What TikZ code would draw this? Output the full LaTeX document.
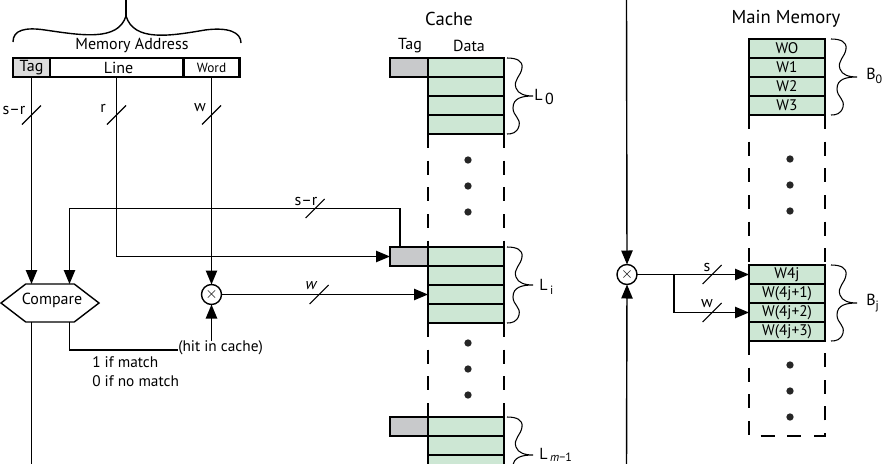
\documentclass[tikz,border=0pt]{standalone}
\usepackage{fontspec}
\setmainfont{PT Sans}
\usetikzlibrary{shapes.symbols, arrows.meta, calc}
\newcommand{\cellWidth}{57pt}
\newcommand{\cellHeight}{14.25pt}
\newcommand{\tagWidth}{28.5pt}
\newcommand{\thinWidth}{0.8pt}
\newcommand{\connWidth}{1.05pt}
\newcommand{\boxWidth}{2.2pt}
\newcommand{\arrow}{{Triangle[length=10.5pt, width=8.5pt]}}
\newcommand{\fontSize}{12}
\definecolor{lineColor}{RGB}{0, 0, 0}
\definecolor{cellGreen}{RGB}{205,231,212}
\definecolor{tagGray}{RGB}{200,201,203}
\definecolor{addrGray}{RGB}{220,220,220}
\tikzstyle{panel}=[draw=lineColor, inner sep=0, outer sep=0]
\tikzstyle{cell}=[panel, fill=cellGreen, minimum width=\cellWidth, minimum height=\cellHeight, line width=\boxWidth, font=\fontsize{11.5}{11.5}\selectfont]
\tikzstyle{tagCell}=[cell, fill=tagGray, minimum width=\tagWidth]
\tikzstyle{addrCell}=[panel, fill=white, minimum height=\cellHeight, line width=1.7pt, font=\fontsize{12}{12}\selectfont]
\tikzstyle{line}=[draw=lineColor, line width=\connWidth]
\tikzstyle{arrow}=[line, -\arrow]
\tikzstyle{slash}=[draw=lineColor, line width=\thinWidth]
\tikzstyle{brace}=[draw=lineColor, line width=\thinWidth]
\tikzstyle{dashLine}=[draw=lineColor, line width=\boxWidth, dash pattern=on 10.5pt off 9.5pt]
\tikzstyle{mult}=[panel, circle, fill=white, line width=\connWidth, minimum size=15pt, font=\large]
\tikzstyle{dot}=[circle, fill=lineColor!85, inner sep=0, minimum size=5.5pt]
\tikzstyle{textNode}=[draw=none, inner sep=0, font=\fontsize{\fontSize}{\fontSize}\selectfont]
\tikzstyle{noteNode}=[textNode, anchor=west, font=\fontsize{11.5}{11.5}\selectfont]
\tikzstyle{titleNode}=[textNode, font=\fontsize{14}{14}\selectfont]
\newcommand{\busSlash}[1]{\draw[slash] ($(#1)+(-9.5,9.5)$) -- ($(#1)+(9.5,-9.5)$);}
\newcommand{\blockBrace}[1]{\draw[brace, shift={(#1)}] (0,0) .. controls (10,0) and (16,3) .. (15,10)
  .. controls (14,18) and (6,22) .. (9,30) .. controls (11,36) and (18,38) .. (26,38)
  .. controls (15,38) and (6,40) .. (6,50) .. controls (6,58) and (14,60) .. (12,68)
  .. controls (10,75) and (5,76) .. (0,76);}
\begin{document}
\begin{tikzpicture}[x=0.75pt, y=-0.75pt]
\useasboundingbox (0,0) rectangle (882,464);
\clip (0,0) rectangle (882,464);

% Address fields
\node[addrCell, fill=addrGray, minimum width=27.75pt] (addrTag) at (31.5,67.5) {Tag};
\node[addrCell, minimum width=99.75pt] (addrLine) at (116.5,67.5) {\hspace{3pt}Line};
\node[addrCell, minimum width=42pt, font=\fontsize{10}{10}\selectfont] (addrWord) at (211.5,67.5) {Word};
\node[textNode] (addrTitle) at (132,45.5) {Memory Address};

% Address brace
\coordinate (addrIn) at (126,-2);
\coordinate (addrTip) at (126,16);
\draw[line] (addrIn) -- (addrTip);
\draw[line] (13,42) .. controls (13,30) and (25,27) .. (45,30) .. controls (80,35) and (118,42) .. (addrTip)
  .. controls (134,42) and (170,36) .. (205,30) .. controls (228,27) and (241,32) .. (241,43);

% Titles
\node[titleNode] (cacheTitle) at (449,19) {Cache};
\node[titleNode] (memTitle) at (786,19) {Main Memory};
\node[textNode] (tagTitle) at (410,45.5) {Tag};
\node[textNode] (dataTitle) at (469,46) {Data};

% Cache lines
\foreach \name/\rowTop in {Zero/58,I/247,M/417} {
  \node[tagCell] (tag\name) at (409,\rowTop+9.5) {};
  \foreach \r in {0,...,3} {
    \node[cell] (data\name\r) at (466,\rowTop+9.5+19*\r) {};
  }
}
\draw[dashLine] (dataZero3.south west) -- (dataI0.north west);
\draw[dashLine] (dataZero3.south east) -- (dataI0.north east);
\draw[dashLine] (dataI3.south west) -- (dataM0.north west);
\draw[dashLine] (dataI3.south east) -- (dataM0.north east);
\foreach \yy in {160,186,212,343,369,395} {
  \node[dot] (cacheDot\yy) at (468,\yy) {};
}

% Memory blocks
\foreach \r/\txt in {0/WO,1/W1,2/W2,3/W3} {
  \node[cell] (memZero\r) at (787,48.5+19*\r) {\txt};
}
\foreach \r/\txt in {0/W4j,1/W(4j+1),2/W(4j+2),3/W(4j+3)} {
  \node[cell] (memJ\r) at (787,274.5+19*\r) {\txt};
}
\coordinate (memCornerL) at (749,436);
\coordinate (memCornerR) at (825,436);
\draw[dashLine] (memZero3.south west) -- (memJ0.north west);
\draw[dashLine] (memZero3.south east) -- (memJ0.north east);
\draw[dashLine] (memJ3.south west) -- (memCornerL) -- (memCornerR) -- (memJ3.south east);
\foreach \yy in {159,185,211,365,391,417} {
  \node[dot] (memDot\yy) at (790,\yy) {};
}

% Braces
\blockBrace{507,58}
\blockBrace{507,247}
\blockBrace{507,417}
\blockBrace{831,39}
\blockBrace{831,265}
\node[textNode, anchor=west] (labelL0) at (534,97) {L\,\raisebox{-3pt}{0}};
\node[textNode, anchor=west] (labelLi) at (539,287) {L\,\raisebox{-3pt}{\small i}};
\node[textNode, anchor=west] (labelLm) at (539,455) {L\,\raisebox{-2pt}{\small\itshape m\textup{−1}}};
\node[textNode, anchor=west] (labelB0) at (866,76) {B\raisebox{-2.5pt}{\small 0}};
\node[textNode, anchor=west] (labelBj) at (866,303) {B\raisebox{-2.5pt}{\small j}};

% Compare and multiplexers
\node[panel, fill=white, signal, signal to=west and east, signal pointer angle=75, line width=\connWidth,
  minimum width=73.5pt, minimum height=28.5pt, font=\fontsize{\fontSize}{\fontSize}\selectfont] (compare) at (50,303) {};
\node[textNode] (compareText) at (52,300.5) {Compare};
\node[mult] (mulCache) at (211.5,294.5) {$\times$};
\node[mult] (mulMem) at (627,274.5) {$\times$};
\node[noteNode] (hit) at (178,348) {(hit in cache)};
\node[noteNode] (matchOne) at (92,362) {1 if match};
\node[noteNode] (matchZero) at (92,381) {0 if no match};

% Useful coordinates
\coordinate (cmpIn) at (69.5,284);
\coordinate (cmpOut) at (69.5,322);
\coordinate (cmpDown) at (31.5,470);
\coordinate (srCorner) at (400,208.5);
\coordinate (memTop) at (626.5,-2);
\coordinate (memBottom) at (626.5,470);
\coordinate (branch) at (674,274.5);

% Connectors
\draw[arrow] (addrTag.south) -- (addrTag.south |- compare.north);
\draw[arrow] (addrLine.south) |- (tagI.west);
\draw[arrow] (addrWord.south) -- (mulCache.north);
\draw[arrow] ([xshift=-6.75pt]tagI.north) -- (srCorner) -| (cmpIn);
\draw[line] (compare.south -| cmpDown) -- (cmpDown);
\draw[line] (cmpOut) |- ([yshift=-1.5pt]hit.west);
\draw[arrow] (mulCache |- hit.north) -- (mulCache.south);
\draw[arrow] (mulCache.east) -- (dataI2.west);
\draw[arrow] (memTop) -- (mulMem.north);
\draw[arrow] (memBottom) -- (mulMem.south);
\draw[arrow] (mulMem.east) -- (memJ0.west);
\draw[arrow] (branch) |- (memJ2.west);

% Bus slashes
\coordinate (slashTag) at (31.5,115);
\coordinate (slashLine) at (116.5,115);
\coordinate (slashWord) at (211.5,115);
\coordinate (slashSr) at (315,208.5);
\coordinate (slashW) at (319,294.5);
\coordinate (slashS) at (712,274.5);
\coordinate (slashMem) at (712,312.5);
\foreach \c in {slashTag,slashLine,slashWord,slashSr,slashW,slashS,slashMem} {
  \busSlash{\c}
}
\node[textNode] (busTag) at (14,110) {s--r};
\node[textNode] (busLine) at (103,108) {r};
\node[textNode] (busWord) at (200,108) {w};
\node[textNode] (busSr) at (306,201) {s--r};
\node[textNode, font=\fontsize{\fontSize}{\fontSize}\selectfont\itshape] (busW) at (311,286) {w};
\node[textNode] (busS) at (707,267) {s};
\node[textNode] (busMem) at (707,304) {w};

\end{tikzpicture}
\end{document}
